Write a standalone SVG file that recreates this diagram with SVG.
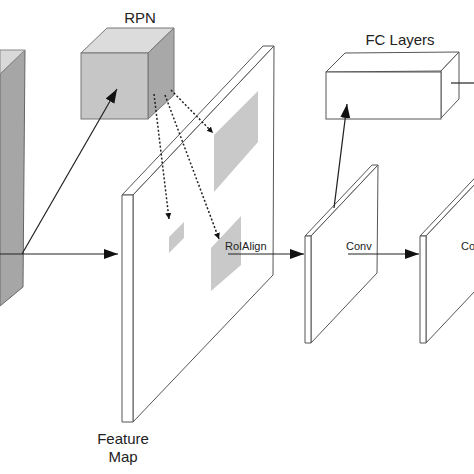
<svg xmlns="http://www.w3.org/2000/svg" width="474" height="474" viewBox="0 0 474 474">
<style>
.edge{fill:none;stroke:#555;stroke-width:1}
.plane{fill:#fff;stroke:#555;stroke-width:1;stroke-linejoin:round}
.roi{fill:#c9c9c9;stroke:none}
.arrow{fill:none;stroke:#222;stroke-width:1.2}
.dot{fill:none;stroke:#222;stroke-width:1.5;stroke-dasharray:2,2}
.lbl{font-family:"Liberation Sans",Arial,sans-serif;font-size:15px;fill:#222;text-anchor:middle}
.sm{font-family:"Liberation Sans",Arial,sans-serif;font-size:11px;fill:#222}
</style>
<defs>
<marker id="ah" markerUnits="userSpaceOnUse" markerWidth="16" markerHeight="12" refX="14" refY="5" orient="auto">
<path d="M0,0 L14,5 L0,10 Z" fill="#111"/>
</marker>
<marker id="dh" markerUnits="userSpaceOnUse" markerWidth="8" markerHeight="8" refX="6" refY="3" orient="auto">
<path d="M0,0 L6,3 L0,6 Z" fill="#111"/>
</marker>
</defs>

<g id="backbone">
<polygon points="0,74 25,50 23,287 0,306" fill="#a6a6a6" stroke="#666" stroke-width="1"/>
<polygon points="0,50 25,50 0,74" fill="#d9d9d9" stroke="#888" stroke-width="1"/>
</g>

<g id="rpn">
<polygon points="81,53 107,28 174,28 148,53" fill="#dcdcdc" stroke="#777" stroke-width="1"/>
<polygon points="148,53 174,28 174,95 148,119" fill="#a8a8a8" stroke="#777" stroke-width="1"/>
<rect x="81" y="53" width="67" height="66" fill="#c6c6c6" stroke="#777" stroke-width="1"/>
<text class="lbl" x="140" y="23">RPN</text>
</g>

<g id="feature-map">
<polygon class="plane" points="122,195 263,46 274,46 133,195"/>
<polygon class="plane" points="133,195 274,46 273,275 133,422"/>
<rect class="plane" x="122" y="195" width="11" height="227"/>
<polygon class="roi" points="214,135 258,91 258,142 214,192"/>
<polygon class="roi" points="169,237 184,222 184,238 169,253"/>
<polygon class="roi" points="211,248 241,216 241,265 211,291"/>
<text class="lbl" x="123" y="444">Feature</text>
<text class="lbl" x="123" y="462">Map</text>
</g>

<g id="conv1">
<polygon class="plane" points="305,236 372,165 378,165 311,236"/>
<polygon class="plane" points="311,236 378,165 377,273 311,343"/>
<rect class="plane" x="305" y="236" width="6" height="107"/>
</g>

<g id="conv2">
<polygon class="plane" points="420,236 487,165 493,165 426,236"/>
<polygon class="plane" points="426,236 493,165 492,273 426,343"/>
<rect class="plane" x="420" y="236" width="6" height="107"/>
</g>

<g id="fc">
<polygon points="326,72 345,53 459,52 441,71" fill="#fff" stroke="#555" stroke-width="1"/>
<polygon points="441,71 459,52 459,99 441,118" fill="#fff" stroke="#555" stroke-width="1"/>
<rect x="326" y="72" width="115" height="47" fill="#fff" stroke="#555" stroke-width="1"/>
<text class="lbl" x="400" y="45">FC Layers</text>
</g>

<g id="connectors">
<line class="arrow" x1="0" y1="254" x2="118" y2="254" marker-end="url(#ah)"/>
<line class="arrow" x1="22" y1="254" x2="117" y2="89" marker-end="url(#ah)"/>
<line class="dot" x1="154" y1="94" x2="169" y2="219" marker-end="url(#dh)"/>
<line class="dot" x1="165" y1="95" x2="219" y2="239" marker-end="url(#dh)"/>
<line class="dot" x1="171" y1="90" x2="213" y2="133" marker-end="url(#dh)"/>
<line class="arrow" x1="228" y1="254" x2="304" y2="254" marker-end="url(#ah)"/>
<line class="arrow" x1="348" y1="254" x2="419" y2="254" marker-end="url(#ah)"/>
<line class="arrow" x1="334" y1="208" x2="347" y2="104" marker-end="url(#ah)"/>
<line class="arrow" x1="451" y1="83" x2="474" y2="83"/>
<text class="sm" x="225" y="250">RoIAlign</text>
<text class="sm" x="346" y="250">Conv</text>
<text class="sm" x="461" y="250">Conv</text>
</g>
</svg>
